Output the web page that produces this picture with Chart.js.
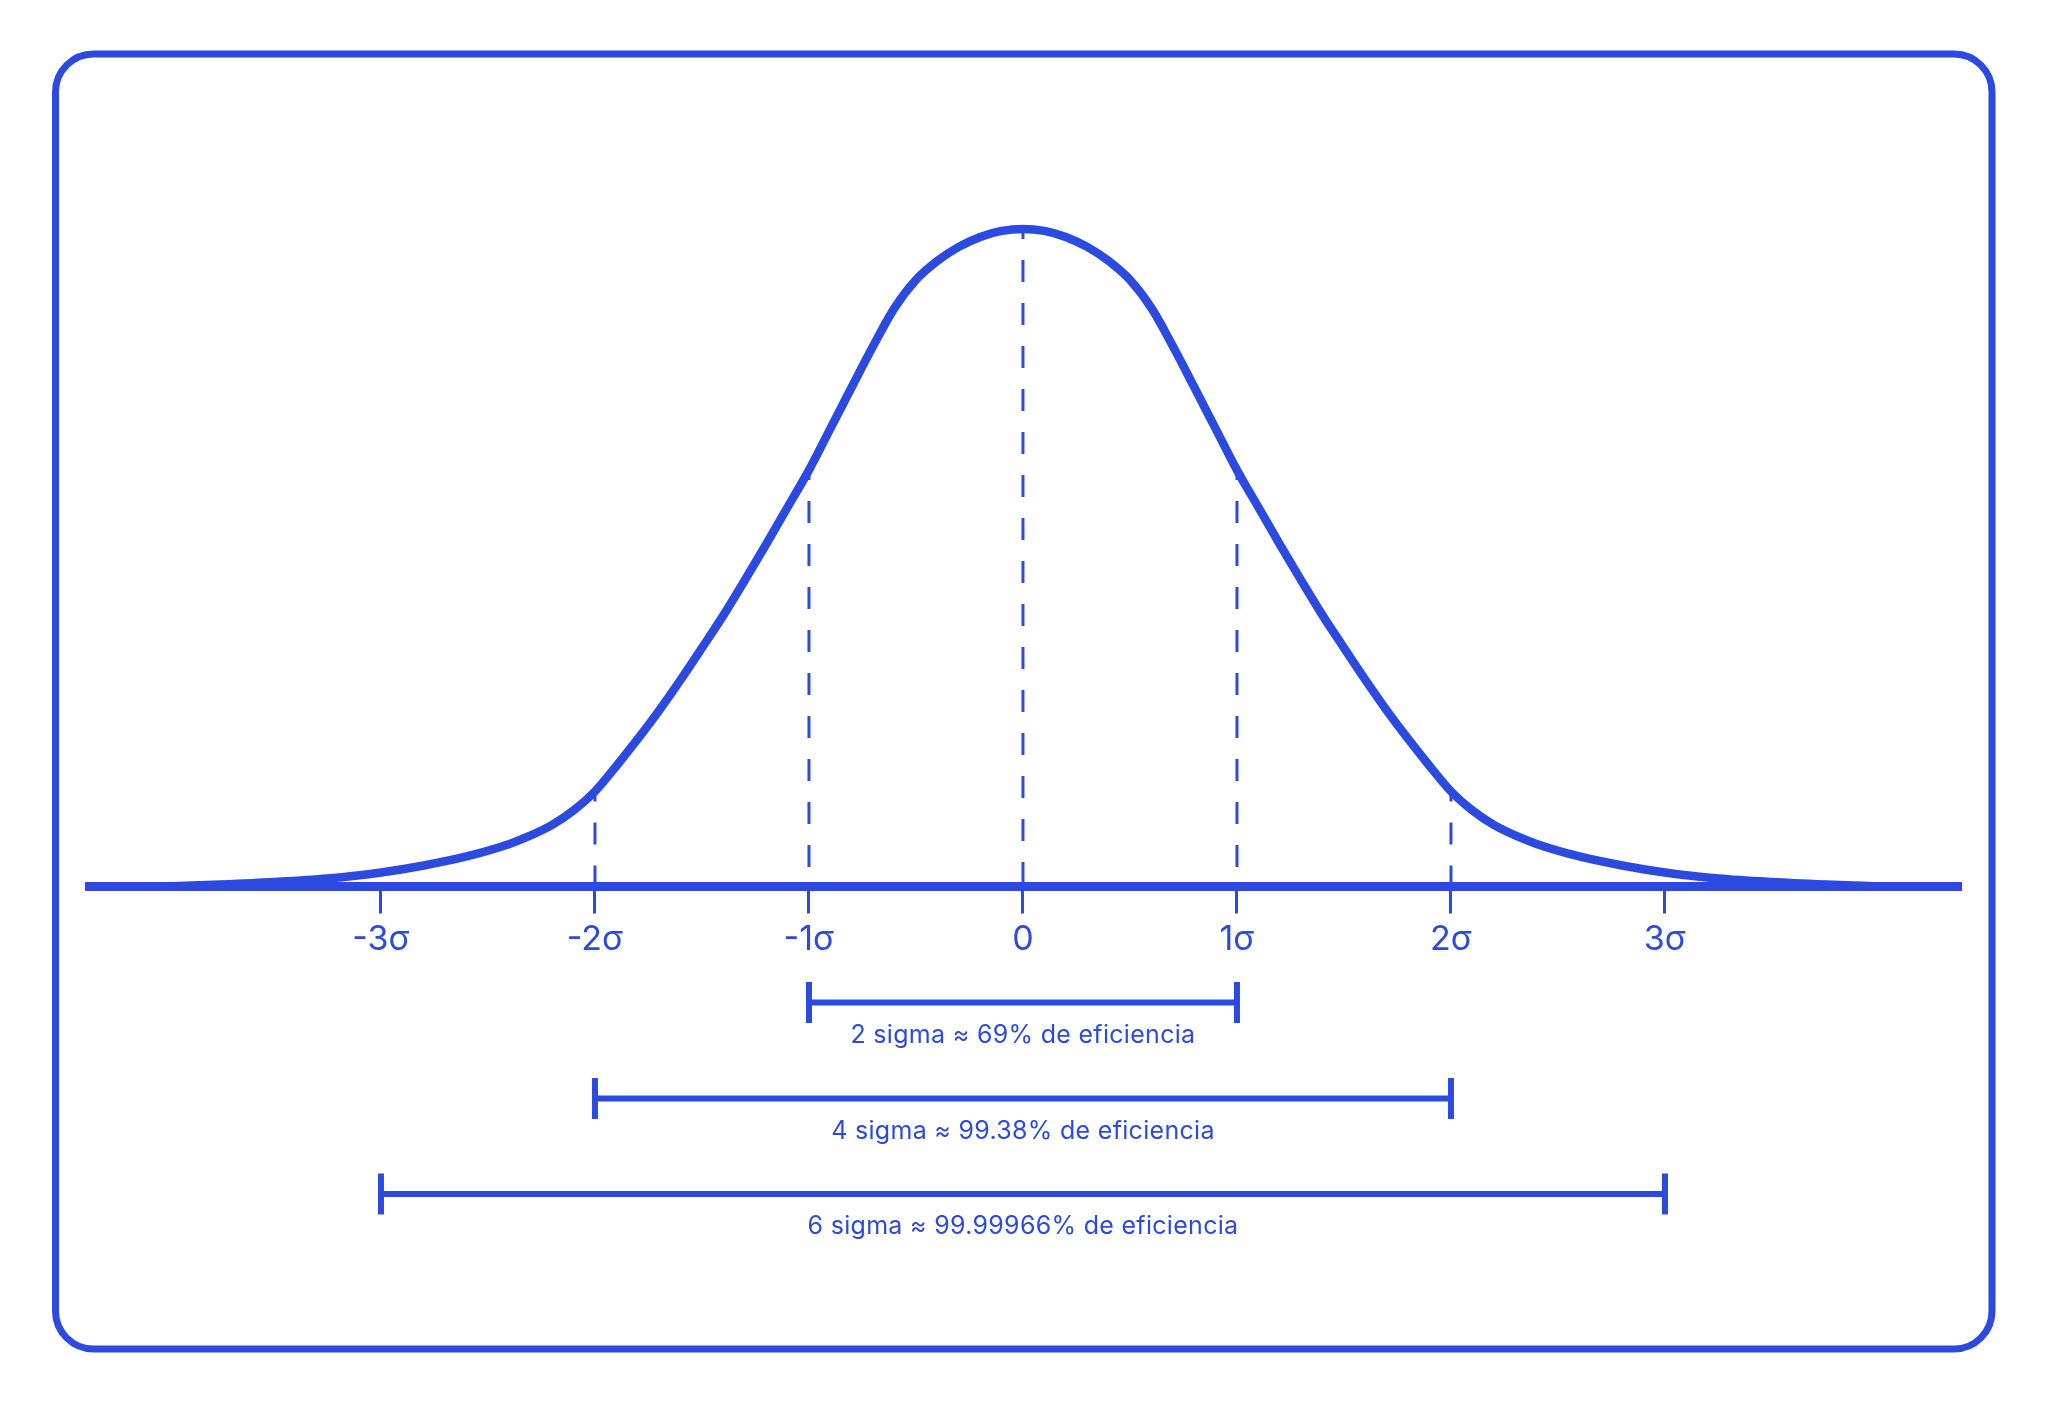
<!DOCTYPE html>
<html><head><meta charset="utf-8">
<script src="https://cdn.jsdelivr.net/npm/chart.js@4.4.1/dist/chart.umd.min.js"></script>
<style>html,body{margin:0;padding:0;background:#fff;} canvas{display:block;}</style>
</head><body>
<canvas id="c" width="2048" height="1404"></canvas>
<script>
// ---- data (x in σ units, y relative to peak) ----
const curveX = [-4, -3.75, -3.5, -3.25, -3, -2.8, -2.6, -2.4, -2.3, -2.2, -2.1, -2, -1.9, -1.8, -1.7, -1.6, -1.5, -1.4, -1.3, -1.2, -1.1,
                -1, -0.9, -0.8, -0.7, -0.6, -0.5, -0.4, -0.3, -0.2, -0.1,
                0, 0.1, 0.2, 0.3, 0.4, 0.5, 0.6, 0.7, 0.8, 0.9,
                1, 1.1, 1.2, 1.3, 1.4, 1.5, 1.6, 1.7, 1.8, 1.9, 2, 2.1, 2.2, 2.3, 2.4, 2.6, 2.8, 3, 3.25, 3.5, 3.75, 4];
const curveY = [0, 0.0030, 0.0068, 0.0122, 0.0213, 0.0320, 0.0457, 0.0647, 0.0776, 0.0936, 0.1157, 0.1446, 0.1833, 0.2244, 0.2677, 0.3142, 0.3629, 0.4123, 0.4656, 0.5204, 0.5767,
                0.6332, 0.6963, 0.7595, 0.8219, 0.8798, 0.9224, 0.9513, 0.9726, 0.9878, 0.9970,
                1.0, 0.9970, 0.9878, 0.9726, 0.9513, 0.9224, 0.8798, 0.8219, 0.7595, 0.6963,
                0.6332, 0.5767, 0.5204, 0.4656, 0.4123, 0.3629, 0.3142, 0.2677, 0.2244, 0.1833, 0.1446, 0.1157, 0.0936, 0.0776, 0.0647, 0.0457, 0.0320, 0.0213, 0.0122, 0.0068, 0.0030, 0];
const tickValues = [-3, -2, -1, 0, 1, 2, 3];
const tickLabels = ['-3σ', '-2σ', '-1σ', '0', '1σ', '2σ', '3σ'];
const guideValues = [-2, -1, 0, 1, 2];
const bracketHalfSpans = [1, 2, 3];
const bracketLabels = ['2 sigma ≈ 69% de eficiencia', '4 sigma ≈ 99.38% de eficiencia', '6 sigma ≈ 99.99966% de eficiencia'];

// ---- styling ----
const BLUE = '#2d4ae0';
const FONT = 'Inter, "Open Sans", sans-serif';

const framePlugin = {
  id: 'frame',
  beforeDraw(chart) {
    const ctx = chart.ctx;
    ctx.save();
    ctx.fillStyle = '#ffffff';
    ctx.fillRect(0, 0, chart.width, chart.height);
    ctx.strokeStyle = BLUE;
    ctx.lineWidth = 7;
    ctx.beginPath();
    ctx.roundRect(55.5, 54, 1936.5, 1295, 38);
    ctx.stroke();
    ctx.restore();
  }
};

const bracketOffsets = [116, 212, 307.5];
const bracketPlugin = {
  id: 'brackets',
  afterDraw(chart) {
    const ctx = chart.ctx;
    const xs = chart.scales.x;
    const base = chart.chartArea.bottom;
    ctx.save();
    ctx.strokeStyle = BLUE;
    ctx.fillStyle = BLUE;
    ctx.lineWidth = 6;
    ctx.font = '25px ' + FONT;
    if ('letterSpacing' in ctx) ctx.letterSpacing = '0.3px';
    ctx.textAlign = 'center';
    ctx.textBaseline = 'alphabetic';
    bracketHalfSpans.forEach((k, i) => {
      const x1 = xs.getPixelForValue(-k);
      const x2 = xs.getPixelForValue(k);
      const y = base + bracketOffsets[i];
      ctx.beginPath();
      ctx.moveTo(x1, y); ctx.lineTo(x2, y);
      ctx.moveTo(x1, y - 20.5); ctx.lineTo(x1, y + 20.5);
      ctx.moveTo(x2, y - 20.5); ctx.lineTo(x2, y + 20.5);
      ctx.stroke();
      ctx.fillText(bracketLabels[i], (x1 + x2) / 2, y + 40);
    });
    ctx.restore();
  }
};

function build() {
  const curve = {
    data: curveX.map((x, i) => ({ x: x, y: curveY[i] })),
    borderColor: BLUE,
    borderWidth: 8.5,
    cubicInterpolationMode: 'monotone',
    fill: false,
    pointRadius: 0,
    clip: false,
    order: 0,
    borderCapStyle: 'round',
    borderJoinStyle: 'round'
  };
  const guides = guideValues.map(g => ({
    data: [{ x: g, y: curveY[curveX.indexOf(g)] }, { x: g, y: 0 }],
    borderColor: BLUE,
    borderWidth: 3,
    borderDash: [22, 21],
    borderDashOffset: 12,
    fill: false,
    pointRadius: 0,
    order: 1
  }));

  new Chart(document.getElementById('c'), {
    type: 'line',
    data: { datasets: [curve, ...guides] },
    options: {
      responsive: false,
      devicePixelRatio: 1,
      animation: false,
      layout: { padding: { left: 89.5, right: 87.5, top: 196, bottom: 447.5 } },
      plugins: { legend: { display: false }, tooltip: { enabled: false } },
      elements: { point: { radius: 0 } },
      scales: {
        x: {
          type: 'linear',
          min: -4.362, max: 4.381,
          afterBuildTicks: s => { s.ticks = tickValues.map(v => ({ value: v })); },
          afterFit: s => { s.height = 70; },
          border: { display: true, color: BLUE, width: 9 },
          grid: { display: true, drawOnChartArea: false, drawTicks: true, tickLength: 27, tickWidth: 3, tickColor: BLUE, lineWidth: 3, color: BLUE },
          ticks: { color: BLUE, font: { family: FONT, size: 34 }, padding: 6, maxRotation: 0, autoSkip: false,
                   callback: (v, i) => tickLabels[i] }
        },
        y: { display: false, min: 0, max: 1.05 }
      }
    },
    plugins: [framePlugin, bracketPlugin]
  });
}

if (document.fonts && document.fonts.load) {
  Promise.all([document.fonts.load('34px Inter'), document.fonts.load('25px Inter')]).then(build, build);
} else { build(); }
</script>
</body></html>
